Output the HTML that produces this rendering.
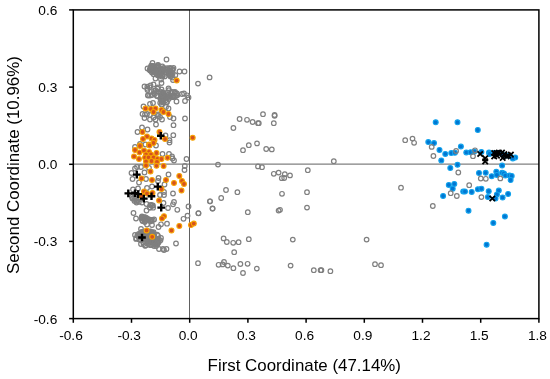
<!DOCTYPE html>
<html><head><meta charset="utf-8"><title>PCoA</title><style>html,body{margin:0;padding:0;background:#fff}body{width:550px;height:379px;overflow:hidden}</style></head><body>
<svg width="550" height="379" viewBox="0 0 550 379" style="display:block">
<rect width="550" height="379" fill="#fff"/>
<g stroke="#606060" stroke-width="1" fill="none"><line x1="73.3" y1="164.1" x2="538.9" y2="164.1"/><line x1="189.5" y1="9.9" x2="189.5" y2="318.6"/></g>
<g fill="#0076d2" stroke="#10a2ec" stroke-width="1.1">
<circle cx="435.7" cy="122.3" r="2.45"/>
<circle cx="457.5" cy="122.3" r="2.45"/>
<circle cx="428.3" cy="142.1" r="2.45"/>
<circle cx="434" cy="143.1" r="2.45"/>
<circle cx="439.5" cy="149.9" r="2.45"/>
<circle cx="445.3" cy="153.9" r="2.45"/>
<circle cx="451.3" cy="153.1" r="2.45"/>
<circle cx="454.9" cy="152.7" r="2.45"/>
<circle cx="460.9" cy="146.6" r="2.45"/>
<circle cx="466.3" cy="152.4" r="2.45"/>
<circle cx="470.6" cy="152.2" r="2.45"/>
<circle cx="441.3" cy="160.4" r="2.45"/>
<circle cx="450.3" cy="168" r="2.45"/>
<circle cx="457.5" cy="164.8" r="2.45"/>
<circle cx="448.8" cy="184.9" r="2.45"/>
<circle cx="454.3" cy="183.9" r="2.45"/>
<circle cx="452.7" cy="188.7" r="2.45"/>
<circle cx="443.1" cy="196" r="2.45"/>
<circle cx="463.2" cy="191.6" r="2.45"/>
<circle cx="471.7" cy="191.9" r="2.45"/>
<circle cx="468.5" cy="210.7" r="2.45"/>
<circle cx="477.8" cy="130" r="2.45"/>
<circle cx="474.3" cy="151.5" r="2.45"/>
<circle cx="481.4" cy="152" r="2.45"/>
<circle cx="489" cy="152.5" r="2.45"/>
<circle cx="489.5" cy="154" r="2.45"/>
<circle cx="494" cy="153" r="2.45"/>
<circle cx="498" cy="153" r="2.45"/>
<circle cx="502" cy="154" r="2.45"/>
<circle cx="506" cy="155.5" r="2.45"/>
<circle cx="510" cy="156" r="2.45"/>
<circle cx="515.2" cy="157.4" r="2.45"/>
<circle cx="512.8" cy="158.4" r="2.45"/>
<circle cx="502.1" cy="165.6" r="2.45"/>
<circle cx="479" cy="173" r="2.45"/>
<circle cx="485.7" cy="172.8" r="2.45"/>
<circle cx="491.7" cy="176.2" r="2.45"/>
<circle cx="496.3" cy="171.8" r="2.45"/>
<circle cx="496.9" cy="174.9" r="2.45"/>
<circle cx="502.1" cy="172.7" r="2.45"/>
<circle cx="504" cy="173.5" r="2.45"/>
<circle cx="505.4" cy="175.6" r="2.45"/>
<circle cx="509.5" cy="175.6" r="2.45"/>
<circle cx="511.7" cy="176" r="2.45"/>
<circle cx="510.6" cy="180" r="2.45"/>
<circle cx="465" cy="191.5" r="2.45"/>
<circle cx="477.9" cy="189.3" r="2.45"/>
<circle cx="481.4" cy="188.7" r="2.45"/>
<circle cx="488.7" cy="191.2" r="2.45"/>
<circle cx="498.8" cy="190.6" r="2.45"/>
<circle cx="496.9" cy="194.4" r="2.45"/>
<circle cx="487.9" cy="197.1" r="2.45"/>
<circle cx="495.5" cy="198.5" r="2.45"/>
<circle cx="502.6" cy="197.5" r="2.45"/>
<circle cx="508.1" cy="194" r="2.45"/>
<circle cx="504.9" cy="216.5" r="2.45"/>
<circle cx="493.3" cy="222.9" r="2.45"/>
<circle cx="486.6" cy="244.7" r="2.45"/>
</g>
<g fill="none" stroke="#7f7f7f" stroke-width="1.2">
<circle cx="157.4" cy="66.5" r="2.3"/>
<circle cx="162.5" cy="69.1" r="2.3"/>
<circle cx="150.9" cy="70.9" r="2.3"/>
<circle cx="150.4" cy="70.0" r="2.3"/>
<circle cx="151.2" cy="65.7" r="2.3"/>
<circle cx="159.8" cy="74.9" r="2.3"/>
<circle cx="152.5" cy="67.4" r="2.3"/>
<circle cx="164.7" cy="76.4" r="2.3"/>
<circle cx="163.5" cy="69.5" r="2.3"/>
<circle cx="170.4" cy="68.2" r="2.3"/>
<circle cx="153.0" cy="66.1" r="2.3"/>
<circle cx="157.0" cy="74.7" r="2.3"/>
<circle cx="153.9" cy="71.8" r="2.3"/>
<circle cx="165.0" cy="69.2" r="2.3"/>
<circle cx="150.9" cy="67.2" r="2.3"/>
<circle cx="166.0" cy="69.9" r="2.3"/>
<circle cx="157.1" cy="71.9" r="2.3"/>
<circle cx="160.5" cy="68.3" r="2.3"/>
<circle cx="168.8" cy="73.3" r="2.3"/>
<circle cx="155.4" cy="71.7" r="2.3"/>
<circle cx="162.3" cy="75.5" r="2.3"/>
<circle cx="167.2" cy="68.2" r="2.3"/>
<circle cx="159.7" cy="74.0" r="2.3"/>
<circle cx="153.2" cy="70.7" r="2.3"/>
<circle cx="168.1" cy="71.7" r="2.3"/>
<circle cx="170.8" cy="68.5" r="2.3"/>
<circle cx="166.4" cy="72.0" r="2.3"/>
<circle cx="163.6" cy="70.3" r="2.3"/>
<circle cx="161.0" cy="72.8" r="2.3"/>
<circle cx="169.5" cy="68.1" r="2.3"/>
<circle cx="158.9" cy="72.9" r="2.3"/>
<circle cx="150.0" cy="70.3" r="2.3"/>
<circle cx="153.6" cy="66.1" r="2.3"/>
<circle cx="152.6" cy="67.7" r="2.3"/>
<circle cx="159.0" cy="75.4" r="2.3"/>
<circle cx="151.5" cy="70.2" r="2.3"/>
<circle cx="162.9" cy="75.6" r="2.3"/>
<circle cx="169.4" cy="75.3" r="2.3"/>
<circle cx="156.3" cy="69.7" r="2.3"/>
<circle cx="158.2" cy="75.6" r="2.3"/>
<circle cx="153.8" cy="67.5" r="2.3"/>
<circle cx="155.2" cy="70.6" r="2.3"/>
<circle cx="163.8" cy="67.9" r="2.3"/>
<circle cx="149.6" cy="69.8" r="2.3"/>
<circle cx="158.5" cy="71.6" r="2.3"/>
<circle cx="172.7" cy="73.2" r="2.3"/>
<circle cx="162.0" cy="72.3" r="2.3"/>
<circle cx="171.4" cy="74.3" r="2.3"/>
<circle cx="170.8" cy="74.5" r="2.3"/>
<circle cx="159.0" cy="69.5" r="2.3"/>
<circle cx="152.0" cy="72.5" r="2.3"/>
<circle cx="154.6" cy="66.6" r="2.3"/>
<circle cx="157.8" cy="65.3" r="2.3"/>
<circle cx="152.0" cy="69.1" r="2.3"/>
<circle cx="155.6" cy="68.9" r="2.3"/>
<circle cx="158.3" cy="66.1" r="2.3"/>
<circle cx="160.8" cy="70.6" r="2.3"/>
<circle cx="151.6" cy="65.9" r="2.3"/>
<circle cx="157.8" cy="67.9" r="2.3"/>
<circle cx="162.3" cy="66.4" r="2.3"/>
<circle cx="162.3" cy="76.7" r="2.3"/>
<circle cx="170.5" cy="73.2" r="2.3"/>
<circle cx="155.8" cy="69.1" r="2.3"/>
<circle cx="153.6" cy="74.2" r="2.3"/>
<circle cx="162.4" cy="74.3" r="2.3"/>
<circle cx="157.5" cy="67.4" r="2.3"/>
<circle cx="170.2" cy="74.6" r="2.3"/>
<circle cx="169.4" cy="73.8" r="2.3"/>
<circle cx="155.0" cy="71.0" r="2.3"/>
<circle cx="158.1" cy="65.0" r="2.3"/>
<circle cx="150.2" cy="68.1" r="2.3"/>
<circle cx="155.8" cy="73.2" r="2.3"/>
<circle cx="172.7" cy="70.1" r="2.3"/>
<circle cx="172.7" cy="69.1" r="2.3"/>
<circle cx="170.5" cy="76.5" r="2.3"/>
<circle cx="172.8" cy="77.5" r="2.3"/>
<circle cx="175.3" cy="75.2" r="2.3"/>
<circle cx="163.2" cy="92.9" r="2.3"/>
<circle cx="162.7" cy="92.7" r="2.3"/>
<circle cx="175.0" cy="96.2" r="2.3"/>
<circle cx="160.6" cy="98.6" r="2.3"/>
<circle cx="173.3" cy="96.2" r="2.3"/>
<circle cx="162.4" cy="100.3" r="2.3"/>
<circle cx="165.3" cy="100.4" r="2.3"/>
<circle cx="177.5" cy="95.1" r="2.3"/>
<circle cx="166.6" cy="102.3" r="2.3"/>
<circle cx="172.8" cy="92.2" r="2.3"/>
<circle cx="161.4" cy="92.0" r="2.3"/>
<circle cx="161.8" cy="100.7" r="2.3"/>
<circle cx="165.7" cy="97.1" r="2.3"/>
<circle cx="174.7" cy="92.7" r="2.3"/>
<circle cx="163.8" cy="93.8" r="2.3"/>
<circle cx="163.6" cy="97.6" r="2.3"/>
<circle cx="163.9" cy="95.4" r="2.3"/>
<circle cx="161.5" cy="101.8" r="2.3"/>
<circle cx="165.7" cy="96.0" r="2.3"/>
<circle cx="167.0" cy="101.9" r="2.3"/>
<circle cx="168.5" cy="96.9" r="2.3"/>
<circle cx="168.9" cy="90.2" r="2.3"/>
<circle cx="167.4" cy="92.4" r="2.3"/>
<circle cx="162.3" cy="96.2" r="2.3"/>
<circle cx="172.8" cy="97.2" r="2.3"/>
<circle cx="165.2" cy="96.7" r="2.3"/>
<circle cx="161.0" cy="97.3" r="2.3"/>
<circle cx="163.7" cy="93.6" r="2.3"/>
<circle cx="173.7" cy="96.6" r="2.3"/>
<circle cx="176.3" cy="95.8" r="2.3"/>
<circle cx="170.6" cy="96.6" r="2.3"/>
<circle cx="168.7" cy="99.0" r="2.3"/>
<circle cx="167.6" cy="96.9" r="2.3"/>
<circle cx="176.9" cy="93.4" r="2.3"/>
<circle cx="175.0" cy="91.8" r="2.3"/>
<circle cx="161.3" cy="95.7" r="2.3"/>
<circle cx="160.4" cy="93.1" r="2.3"/>
<circle cx="160.4" cy="98.7" r="2.3"/>
<circle cx="161.9" cy="99.3" r="2.3"/>
<circle cx="171.5" cy="91.9" r="2.3"/>
<circle cx="163.2" cy="102.4" r="2.3"/>
<circle cx="166.6" cy="96.3" r="2.3"/>
<circle cx="162.1" cy="95.6" r="2.3"/>
<circle cx="168.8" cy="94.4" r="2.3"/>
<circle cx="162.7" cy="94.1" r="2.3"/>
<circle cx="169.5" cy="95.7" r="2.3"/>
<circle cx="170.9" cy="96.7" r="2.3"/>
<circle cx="160.2" cy="102.8" r="2.3"/>
<circle cx="157.0" cy="95.7" r="2.3"/>
<circle cx="147.5" cy="88.7" r="2.3"/>
<circle cx="149.8" cy="87.3" r="2.3"/>
<circle cx="151.9" cy="95.1" r="2.3"/>
<circle cx="157.5" cy="88.6" r="2.3"/>
<circle cx="148.1" cy="95.2" r="2.3"/>
<circle cx="154.0" cy="93.0" r="2.3"/>
<circle cx="147.3" cy="86.6" r="2.3"/>
<circle cx="155.6" cy="90.3" r="2.3"/>
<circle cx="154.9" cy="94.0" r="2.3"/>
<circle cx="150.0" cy="207.5" r="2.3"/>
<circle cx="149.9" cy="207.5" r="2.3"/>
<circle cx="152.4" cy="205.7" r="2.3"/>
<circle cx="153.1" cy="207.7" r="2.3"/>
<circle cx="151.2" cy="205.0" r="2.3"/>
<circle cx="152.9" cy="205.3" r="2.3"/>
<circle cx="150.2" cy="205.1" r="2.3"/>
<circle cx="134.1" cy="197.5" r="2.3"/>
<circle cx="139.9" cy="197.4" r="2.3"/>
<circle cx="136.5" cy="196.7" r="2.3"/>
<circle cx="139.5" cy="199.1" r="2.3"/>
<circle cx="132.5" cy="198.6" r="2.3"/>
<circle cx="140.6" cy="198.3" r="2.3"/>
<circle cx="136.4" cy="200.9" r="2.3"/>
<circle cx="135.1" cy="198.8" r="2.3"/>
<circle cx="138.9" cy="201.9" r="2.3"/>
<circle cx="134.5" cy="200.9" r="2.3"/>
<circle cx="150.7" cy="219.9" r="2.3"/>
<circle cx="146.8" cy="218.2" r="2.3"/>
<circle cx="142.2" cy="217.0" r="2.3"/>
<circle cx="142.4" cy="220.5" r="2.3"/>
<circle cx="144.8" cy="217.1" r="2.3"/>
<circle cx="142.6" cy="221.1" r="2.3"/>
<circle cx="152.8" cy="220.1" r="2.3"/>
<circle cx="145.2" cy="217.6" r="2.3"/>
<circle cx="145.3" cy="218.9" r="2.3"/>
<circle cx="143.5" cy="218.8" r="2.3"/>
<circle cx="144.9" cy="221.8" r="2.3"/>
<circle cx="154.1" cy="219.4" r="2.3"/>
<circle cx="144.7" cy="221.8" r="2.3"/>
<circle cx="145.5" cy="218.3" r="2.3"/>
<circle cx="141.5" cy="218.4" r="2.3"/>
<circle cx="147.7" cy="219.1" r="2.3"/>
<circle cx="144.1" cy="219.1" r="2.3"/>
<circle cx="141.6" cy="217.7" r="2.3"/>
<circle cx="142.7" cy="218.5" r="2.3"/>
<circle cx="142.0" cy="216.3" r="2.3"/>
<circle cx="145.5" cy="217.6" r="2.3"/>
<circle cx="149.1" cy="219.3" r="2.3"/>
<circle cx="151.3" cy="220.0" r="2.3"/>
<circle cx="150.8" cy="221.3" r="2.3"/>
<circle cx="145.5" cy="236.4" r="2.3"/>
<circle cx="153.7" cy="241.1" r="2.3"/>
<circle cx="157.9" cy="240.9" r="2.3"/>
<circle cx="154.0" cy="243.7" r="2.3"/>
<circle cx="139.4" cy="239.4" r="2.3"/>
<circle cx="148.4" cy="244.0" r="2.3"/>
<circle cx="155.7" cy="243.9" r="2.3"/>
<circle cx="150.3" cy="244.9" r="2.3"/>
<circle cx="152.7" cy="241.9" r="2.3"/>
<circle cx="141.6" cy="232.0" r="2.3"/>
<circle cx="139.3" cy="236.9" r="2.3"/>
<circle cx="149.7" cy="240.9" r="2.3"/>
<circle cx="151.3" cy="241.7" r="2.3"/>
<circle cx="148.0" cy="231.5" r="2.3"/>
<circle cx="155.5" cy="242.7" r="2.3"/>
<circle cx="148.3" cy="239.5" r="2.3"/>
<circle cx="152.2" cy="232.5" r="2.3"/>
<circle cx="154.1" cy="235.3" r="2.3"/>
<circle cx="137.8" cy="235.5" r="2.3"/>
<circle cx="153.9" cy="234.6" r="2.3"/>
<circle cx="154.1" cy="246.1" r="2.3"/>
<circle cx="148.1" cy="237.2" r="2.3"/>
<circle cx="147.7" cy="241.8" r="2.3"/>
<circle cx="154.8" cy="240.8" r="2.3"/>
<circle cx="151.7" cy="232.7" r="2.3"/>
<circle cx="139.6" cy="235.3" r="2.3"/>
<circle cx="154.2" cy="236.1" r="2.3"/>
<circle cx="149.9" cy="231.7" r="2.3"/>
<circle cx="137.5" cy="235.5" r="2.3"/>
<circle cx="152.5" cy="241.9" r="2.3"/>
<circle cx="152.6" cy="235.9" r="2.3"/>
<circle cx="148.7" cy="238.5" r="2.3"/>
<circle cx="147.4" cy="233.3" r="2.3"/>
<circle cx="136.4" cy="238.4" r="2.3"/>
<circle cx="156.1" cy="246.0" r="2.3"/>
<circle cx="147.0" cy="235.5" r="2.3"/>
<circle cx="141.2" cy="240.2" r="2.3"/>
<circle cx="139.5" cy="239.4" r="2.3"/>
<circle cx="156.1" cy="239.1" r="2.3"/>
<circle cx="157.7" cy="242.1" r="2.3"/>
<circle cx="147.9" cy="231.9" r="2.3"/>
<circle cx="136.1" cy="238.9" r="2.3"/>
<circle cx="147.0" cy="236.0" r="2.3"/>
<circle cx="139.4" cy="236.7" r="2.3"/>
<circle cx="143.7" cy="244.1" r="2.3"/>
<circle cx="158.7" cy="242.2" r="2.3"/>
<circle cx="158.1" cy="235.8" r="2.3"/>
<circle cx="145.1" cy="237.4" r="2.3"/>
<circle cx="160.5" cy="240.3" r="2.3"/>
<circle cx="144.8" cy="237.9" r="2.3"/>
<circle cx="142.7" cy="232.2" r="2.3"/>
<circle cx="142.1" cy="235.5" r="2.3"/>
<circle cx="148.5" cy="234.3" r="2.3"/>
<circle cx="145.1" cy="245.8" r="2.3"/>
<circle cx="157.7" cy="243.7" r="2.3"/>
<circle cx="151.5" cy="245.2" r="2.3"/>
<circle cx="159.0" cy="239.7" r="2.3"/>
<circle cx="153.6" cy="232.2" r="2.3"/>
<circle cx="153.9" cy="238.3" r="2.3"/>
<circle cx="154.4" cy="241.2" r="2.3"/>
<circle cx="143.0" cy="232.2" r="2.3"/>
<circle cx="147.6" cy="236.7" r="2.3"/>
<circle cx="143.3" cy="242.6" r="2.3"/>
<circle cx="152.1" cy="236.0" r="2.3"/>
<circle cx="149.7" cy="237.4" r="2.3"/>
<circle cx="140.1" cy="233.9" r="2.3"/>
<circle cx="148.2" cy="234.8" r="2.3"/>
<circle cx="147.0" cy="233.6" r="2.3"/>
<circle cx="140.7" cy="232.9" r="2.3"/>
<circle cx="144.4" cy="232.9" r="2.3"/>
<circle cx="141.9" cy="235.4" r="2.3"/>
<circle cx="150.0" cy="244.8" r="2.3"/>
<circle cx="154.4" cy="237.7" r="2.3"/>
<circle cx="146.1" cy="239.4" r="2.3"/>
<circle cx="145.2" cy="236.6" r="2.3"/>
<circle cx="137.5" cy="235.7" r="2.3"/>
<circle cx="148.3" cy="240.9" r="2.3"/>
<circle cx="157.1" cy="234.7" r="2.3"/>
<circle cx="142.6" cy="235.2" r="2.3"/>
<circle cx="145.8" cy="238.2" r="2.3"/>
<circle cx="157.9" cy="238.6" r="2.3"/>
<circle cx="150.4" cy="231.5" r="2.3"/>
<circle cx="145.6" cy="245.4" r="2.3"/>
<circle cx="156.2" cy="244.3" r="2.3"/>
<circle cx="138.7" cy="233.8" r="2.3"/>
<circle cx="166.5" cy="59.5" r="2.3"/>
<circle cx="147.5" cy="68.5" r="2.3"/>
<circle cx="152.5" cy="63" r="2.3"/>
<circle cx="179.5" cy="71.5" r="2.3"/>
<circle cx="184.5" cy="71.5" r="2.3"/>
<circle cx="155.5" cy="78.5" r="2.3"/>
<circle cx="173.5" cy="68" r="2.3"/>
<circle cx="173" cy="80" r="2.3"/>
<circle cx="161.5" cy="83" r="2.3"/>
<circle cx="161" cy="79.5" r="2.3"/>
<circle cx="144.5" cy="86.5" r="2.3"/>
<circle cx="150.5" cy="85.5" r="2.3"/>
<circle cx="168.5" cy="88.5" r="2.3"/>
<circle cx="153.5" cy="84.5" r="2.3"/>
<circle cx="147.5" cy="90" r="2.3"/>
<circle cx="148" cy="95.5" r="2.3"/>
<circle cx="150" cy="95.5" r="2.3"/>
<circle cx="158" cy="87.5" r="2.3"/>
<circle cx="161.5" cy="89.5" r="2.3"/>
<circle cx="182" cy="94" r="2.3"/>
<circle cx="184" cy="93.5" r="2.3"/>
<circle cx="187" cy="95.3" r="2.3"/>
<circle cx="188.5" cy="97.5" r="2.3"/>
<circle cx="185" cy="101" r="2.3"/>
<circle cx="176.5" cy="101.5" r="2.3"/>
<circle cx="154" cy="91" r="2.3"/>
<circle cx="157" cy="96" r="2.3"/>
<circle cx="150" cy="104" r="2.3"/>
<circle cx="153" cy="103" r="2.3"/>
<circle cx="161.5" cy="104.5" r="2.3"/>
<circle cx="143.5" cy="106.5" r="2.3"/>
<circle cx="168.5" cy="108.5" r="2.3"/>
<circle cx="166" cy="107" r="2.3"/>
<circle cx="142.5" cy="114" r="2.3"/>
<circle cx="145" cy="114.5" r="2.3"/>
<circle cx="150" cy="115" r="2.3"/>
<circle cx="158" cy="114.5" r="2.3"/>
<circle cx="185" cy="118.5" r="2.3"/>
<circle cx="173.5" cy="118.5" r="2.3"/>
<circle cx="144.5" cy="118" r="2.3"/>
<circle cx="150" cy="119.5" r="2.3"/>
<circle cx="155.5" cy="119.5" r="2.3"/>
<circle cx="162" cy="119.5" r="2.3"/>
<circle cx="156" cy="124.5" r="2.3"/>
<circle cx="173.5" cy="125.2" r="2.3"/>
<circle cx="170" cy="117" r="2.3"/>
<circle cx="147" cy="114" r="2.3"/>
<circle cx="153.5" cy="117.5" r="2.3"/>
<circle cx="158" cy="116" r="2.3"/>
<circle cx="160" cy="117" r="2.3"/>
<circle cx="142" cy="127.5" r="2.3"/>
<circle cx="147.5" cy="129.5" r="2.3"/>
<circle cx="137.5" cy="132" r="2.3"/>
<circle cx="173.3" cy="135.2" r="2.3"/>
<circle cx="165.5" cy="135.5" r="2.3"/>
<circle cx="169.5" cy="140.2" r="2.3"/>
<circle cx="169.5" cy="142.5" r="2.3"/>
<circle cx="140" cy="144" r="2.3"/>
<circle cx="145.5" cy="144.5" r="2.3"/>
<circle cx="156" cy="145.5" r="2.3"/>
<circle cx="135" cy="147" r="2.3"/>
<circle cx="162.5" cy="154" r="2.3"/>
<circle cx="169" cy="154" r="2.3"/>
<circle cx="172" cy="156.5" r="2.3"/>
<circle cx="174" cy="160.5" r="2.3"/>
<circle cx="172.5" cy="158.5" r="2.3"/>
<circle cx="137" cy="167" r="2.3"/>
<circle cx="141" cy="167" r="2.3"/>
<circle cx="135" cy="168.5" r="2.3"/>
<circle cx="131.5" cy="173" r="2.3"/>
<circle cx="144.5" cy="172.5" r="2.3"/>
<circle cx="149" cy="168" r="2.3"/>
<circle cx="168.5" cy="174.5" r="2.3"/>
<circle cx="186.5" cy="159" r="2.3"/>
<circle cx="184.8" cy="166" r="2.3"/>
<circle cx="184.5" cy="170" r="2.3"/>
<circle cx="164.5" cy="184.5" r="2.3"/>
<circle cx="132.5" cy="179" r="2.3"/>
<circle cx="139" cy="182.5" r="2.3"/>
<circle cx="146" cy="179" r="2.3"/>
<circle cx="158.5" cy="178" r="2.3"/>
<circle cx="158" cy="181" r="2.3"/>
<circle cx="133" cy="189.5" r="2.3"/>
<circle cx="138" cy="188.5" r="2.3"/>
<circle cx="147" cy="188" r="2.3"/>
<circle cx="152" cy="186.5" r="2.3"/>
<circle cx="164" cy="192" r="2.3"/>
<circle cx="160" cy="195" r="2.3"/>
<circle cx="173" cy="193.5" r="2.3"/>
<circle cx="132" cy="197" r="2.3"/>
<circle cx="137" cy="200" r="2.3"/>
<circle cx="174" cy="202" r="2.3"/>
<circle cx="136.5" cy="202.5" r="2.3"/>
<circle cx="142" cy="202.5" r="2.3"/>
<circle cx="146.5" cy="204" r="2.3"/>
<circle cx="135" cy="199" r="2.3"/>
<circle cx="146.5" cy="210.5" r="2.3"/>
<circle cx="168" cy="208" r="2.3"/>
<circle cx="173" cy="204.3" r="2.3"/>
<circle cx="133.5" cy="213" r="2.3"/>
<circle cx="136" cy="218.5" r="2.3"/>
<circle cx="147" cy="224.5" r="2.3"/>
<circle cx="152" cy="225" r="2.3"/>
<circle cx="158.5" cy="227" r="2.3"/>
<circle cx="161" cy="224.3" r="2.3"/>
<circle cx="167" cy="223.7" r="2.3"/>
<circle cx="141" cy="229" r="2.3"/>
<circle cx="164" cy="195" r="2.3"/>
<circle cx="135" cy="235" r="2.3"/>
<circle cx="141" cy="244" r="2.3"/>
<circle cx="159" cy="249" r="2.3"/>
<circle cx="164" cy="250" r="2.3"/>
<circle cx="166.5" cy="249" r="2.3"/>
<circle cx="176" cy="243.5" r="2.3"/>
<circle cx="161" cy="238" r="2.3"/>
<circle cx="177.3" cy="209.8" r="2.3"/>
<circle cx="188.5" cy="206.5" r="2.3"/>
<circle cx="187.5" cy="215.7" r="2.3"/>
<circle cx="183.5" cy="218.8" r="2.3"/>
<circle cx="198.5" cy="213.3" r="2.3"/>
<circle cx="210" cy="201.3" r="2.3"/>
<circle cx="212.5" cy="208.5" r="2.3"/>
<circle cx="163.5" cy="203" r="2.3"/>
<circle cx="163" cy="249" r="2.3"/>
<circle cx="198" cy="83.6" r="2.3"/>
<circle cx="209.6" cy="77.4" r="2.3"/>
<circle cx="233.4" cy="128" r="2.3"/>
<circle cx="239.6" cy="119" r="2.3"/>
<circle cx="247" cy="119.8" r="2.3"/>
<circle cx="252.6" cy="122" r="2.3"/>
<circle cx="258" cy="123.2" r="2.3"/>
<circle cx="258.8" cy="123.2" r="2.3"/>
<circle cx="263" cy="114.2" r="2.3"/>
<circle cx="274.6" cy="115.0" r="2.3"/>
<circle cx="274.6" cy="115.8" r="2.3"/>
<circle cx="273.8" cy="123.2" r="2.3"/>
<circle cx="243" cy="150.2" r="2.3"/>
<circle cx="248.8" cy="145.2" r="2.3"/>
<circle cx="257" cy="143.4" r="2.3"/>
<circle cx="266.2" cy="149" r="2.3"/>
<circle cx="271.8" cy="149.4" r="2.3"/>
<circle cx="218" cy="164.6" r="2.3"/>
<circle cx="258" cy="166.4" r="2.3"/>
<circle cx="262" cy="167.2" r="2.3"/>
<circle cx="273.8" cy="173.8" r="2.3"/>
<circle cx="278.6" cy="172.6" r="2.3"/>
<circle cx="284.8" cy="174.2" r="2.3"/>
<circle cx="290" cy="175.4" r="2.3"/>
<circle cx="281.8" cy="178.2" r="2.3"/>
<circle cx="284.2" cy="178" r="2.3"/>
<circle cx="226" cy="190" r="2.3"/>
<circle cx="237.4" cy="192.2" r="2.3"/>
<circle cx="221.2" cy="198" r="2.3"/>
<circle cx="210" cy="201.3" r="2.3"/>
<circle cx="282" cy="193.8" r="2.3"/>
<circle cx="212.6" cy="208.6" r="2.3"/>
<circle cx="198.4" cy="213.2" r="2.3"/>
<circle cx="247.8" cy="212.2" r="2.3"/>
<circle cx="278.6" cy="210.6" r="2.3"/>
<circle cx="280" cy="209.8" r="2.3"/>
<circle cx="223.6" cy="238.4" r="2.3"/>
<circle cx="226.8" cy="242" r="2.3"/>
<circle cx="233.2" cy="242.8" r="2.3"/>
<circle cx="238.6" cy="242.2" r="2.3"/>
<circle cx="248.8" cy="239.2" r="2.3"/>
<circle cx="292.8" cy="239.6" r="2.3"/>
<circle cx="234.2" cy="252.2" r="2.3"/>
<circle cx="198" cy="263.2" r="2.3"/>
<circle cx="218.6" cy="264.8" r="2.3"/>
<circle cx="222.6" cy="264.4" r="2.3"/>
<circle cx="224" cy="262" r="2.3"/>
<circle cx="227.8" cy="265.6" r="2.3"/>
<circle cx="233.4" cy="268.2" r="2.3"/>
<circle cx="240.4" cy="264" r="2.3"/>
<circle cx="247.6" cy="263.8" r="2.3"/>
<circle cx="256.8" cy="268.6" r="2.3"/>
<circle cx="243" cy="273" r="2.3"/>
<circle cx="290.6" cy="265.6" r="2.3"/>
<circle cx="307.8" cy="170.2" r="2.3"/>
<circle cx="333.8" cy="161.2" r="2.3"/>
<circle cx="307" cy="192.2" r="2.3"/>
<circle cx="307" cy="207.6" r="2.3"/>
<circle cx="366.6" cy="239.6" r="2.3"/>
<circle cx="375" cy="264.2" r="2.3"/>
<circle cx="381" cy="265.2" r="2.3"/>
<circle cx="313.8" cy="270.2" r="2.3"/>
<circle cx="320.6" cy="270.2" r="2.3"/>
<circle cx="321.4" cy="270.2" r="2.3"/>
<circle cx="330.4" cy="271.2" r="2.3"/>
<circle cx="405.2" cy="140.2" r="2.3"/>
<circle cx="412.5" cy="138.6" r="2.3"/>
<circle cx="414.1" cy="142.8" r="2.3"/>
<circle cx="431.7" cy="146.9" r="2.3"/>
<circle cx="433.4" cy="156" r="2.3"/>
<circle cx="456.1" cy="151" r="2.3"/>
<circle cx="475" cy="150.3" r="2.3"/>
<circle cx="473" cy="156.2" r="2.3"/>
<circle cx="458.3" cy="172.5" r="2.3"/>
<circle cx="401" cy="187.7" r="2.3"/>
<circle cx="469.2" cy="185.2" r="2.3"/>
<circle cx="450.7" cy="193.2" r="2.3"/>
<circle cx="456.8" cy="196" r="2.3"/>
<circle cx="432.8" cy="206" r="2.3"/>
<circle cx="480.8" cy="178.5" r="2.3"/>
<circle cx="485.8" cy="178.8" r="2.3"/>
<circle cx="500.3" cy="178.4" r="2.3"/>
<circle cx="481.4" cy="197.1" r="2.3"/>
</g>
<g fill="#d6521c" stroke="#f7a400" stroke-width="1.1">
<circle cx="176.7" cy="80.6" r="2.45"/>
<circle cx="192.7" cy="137.7" r="2.45"/>
<circle cx="191" cy="225" r="2.45"/>
<circle cx="193.8" cy="223.6" r="2.45"/>
<circle cx="145.5" cy="108.5" r="2.45"/>
<circle cx="151" cy="109" r="2.45"/>
<circle cx="155.5" cy="108.5" r="2.45"/>
<circle cx="153.5" cy="112" r="2.45"/>
<circle cx="161.5" cy="110" r="2.45"/>
<circle cx="163.5" cy="112" r="2.45"/>
<circle cx="168.5" cy="114" r="2.45"/>
<circle cx="142.5" cy="132" r="2.45"/>
<circle cx="159.5" cy="132" r="2.45"/>
<circle cx="147" cy="136.5" r="2.45"/>
<circle cx="143" cy="139" r="2.45"/>
<circle cx="151.5" cy="138.5" r="2.45"/>
<circle cx="154.5" cy="140" r="2.45"/>
<circle cx="165" cy="139" r="2.45"/>
<circle cx="153.5" cy="143" r="2.45"/>
<circle cx="149" cy="144.5" r="2.45"/>
<circle cx="140" cy="145.5" r="2.45"/>
<circle cx="149.5" cy="145.5" r="2.45"/>
<circle cx="140" cy="146" r="2.45"/>
<circle cx="135" cy="150" r="2.45"/>
<circle cx="139.5" cy="152.5" r="2.45"/>
<circle cx="144" cy="150.5" r="2.45"/>
<circle cx="149" cy="152" r="2.45"/>
<circle cx="146" cy="154.5" r="2.45"/>
<circle cx="151" cy="154.5" r="2.45"/>
<circle cx="156.5" cy="153" r="2.45"/>
<circle cx="134" cy="156.5" r="2.45"/>
<circle cx="139" cy="159" r="2.45"/>
<circle cx="145" cy="157.5" r="2.45"/>
<circle cx="148.5" cy="157.5" r="2.45"/>
<circle cx="153.5" cy="157.5" r="2.45"/>
<circle cx="157.5" cy="159" r="2.45"/>
<circle cx="161.5" cy="159" r="2.45"/>
<circle cx="167.5" cy="157.8" r="2.45"/>
<circle cx="146" cy="161.5" r="2.45"/>
<circle cx="151.5" cy="161" r="2.45"/>
<circle cx="157" cy="162" r="2.45"/>
<circle cx="146" cy="165.5" r="2.45"/>
<circle cx="156.5" cy="165.8" r="2.45"/>
<circle cx="163.6" cy="166" r="2.45"/>
<circle cx="150.5" cy="171.5" r="2.45"/>
<circle cx="179.3" cy="176" r="2.45"/>
<circle cx="141.5" cy="178.5" r="2.45"/>
<circle cx="152" cy="180" r="2.45"/>
<circle cx="166" cy="180" r="2.45"/>
<circle cx="174" cy="183" r="2.45"/>
<circle cx="161.5" cy="189" r="2.45"/>
<circle cx="144" cy="191.5" r="2.45"/>
<circle cx="147" cy="193.5" r="2.45"/>
<circle cx="152.5" cy="193" r="2.45"/>
<circle cx="159.1" cy="200.4" r="2.45"/>
<circle cx="141.5" cy="196" r="2.45"/>
<circle cx="164" cy="216.2" r="2.45"/>
<circle cx="162" cy="218.5" r="2.45"/>
<circle cx="146.6" cy="230.4" r="2.45"/>
<circle cx="171.5" cy="230.5" r="2.45"/>
<circle cx="152.2" cy="236.8" r="2.45"/>
<circle cx="179.3" cy="226" r="2.45"/>
<circle cx="182" cy="181" r="2.45"/>
<circle cx="184" cy="184" r="2.45"/>
<circle cx="181.5" cy="190.5" r="2.45"/>
</g>
<g stroke="#000" stroke-width="2.4" fill="none">
<path d="M157.0 135.8H164.60000000000002M160.8 132.0V139.60000000000002"/>
<path d="M133.0 174.6H140.60000000000002M136.8 170.79999999999998V178.4"/>
<path d="M154.0 186.6H161.60000000000002M157.8 182.79999999999998V190.4"/>
<path d="M124.50000000000001 193.4H132.10000000000002M128.3 189.6V197.20000000000002"/>
<path d="M131.2 193.2H138.8M135 189.39999999999998V197.0"/>
<path d="M134.39999999999998 194.1H142.0M138.2 190.29999999999998V197.9"/>
<path d="M140.0 198.6H147.60000000000002M143.8 194.79999999999998V202.4"/>
<path d="M147.7 196.3H155.3M151.5 192.5V200.10000000000002"/>
<path d="M157.39999999999998 207.6H165.0M161.2 203.79999999999998V211.4"/>
<path d="M138.2 237.5H145.8M142 233.7V241.3"/>
</g>
<g stroke="#000" stroke-width="1.8" fill="none">
<path d="M477.5 151.3L482.9 156.7M477.5 156.7L482.9 151.3"/>
<path d="M482.5 155.60000000000002L487.9 161.0M482.5 161.0L487.9 155.60000000000002"/>
<path d="M482.5 158.70000000000002L487.9 164.1M482.5 164.1L487.9 158.70000000000002"/>
<path d="M491.5 150.3L496.9 155.7M491.5 155.7L496.9 150.3"/>
<path d="M493.90000000000003 150.3L499.3 155.7M493.90000000000003 155.7L499.3 150.3"/>
<path d="M491.5 153.8L496.9 159.2M491.5 159.2L496.9 153.8"/>
<path d="M494.3 153.0L499.7 158.39999999999998M494.3 158.39999999999998L499.7 153.0"/>
<path d="M496.2 149.9L501.59999999999997 155.29999999999998M496.2 155.29999999999998L501.59999999999997 149.9"/>
<path d="M499.3 149.9L504.7 155.29999999999998M499.3 155.29999999999998L504.7 149.9"/>
<path d="M501.6 151.5L507.0 156.89999999999998M501.6 156.89999999999998L507.0 151.5"/>
<path d="M500.0 155.3L505.4 160.7M500.0 160.7L505.4 155.3"/>
<path d="M503.90000000000003 153.8L509.3 159.2M503.90000000000003 159.2L509.3 153.8"/>
<path d="M505.5 152.9L510.9 158.29999999999998M505.5 158.29999999999998L510.9 152.9"/>
<path d="M508.2 151.9L513.6 157.29999999999998M508.2 157.29999999999998L513.6 151.9"/>
<path d="M489.6 195.8L495.0 201.2M489.6 201.2L495.0 195.8"/>
</g>
<g stroke="#000" stroke-width="1.5" fill="none"><rect x="73.3" y="9.9" width="465.59999999999997" height="308.70000000000005"/>
<line x1="73.3" y1="318.6" x2="73.3" y2="322.8"/>
<line x1="131.5" y1="318.6" x2="131.5" y2="322.8"/>
<line x1="189.7" y1="318.6" x2="189.7" y2="322.8"/>
<line x1="247.9" y1="318.6" x2="247.9" y2="322.8"/>
<line x1="306.1" y1="318.6" x2="306.1" y2="322.8"/>
<line x1="364.3" y1="318.6" x2="364.3" y2="322.8"/>
<line x1="422.5" y1="318.6" x2="422.5" y2="322.8"/>
<line x1="480.7" y1="318.6" x2="480.7" y2="322.8"/>
<line x1="538.9" y1="318.6" x2="538.9" y2="322.8"/>
<line x1="69.1" y1="9.9" x2="73.3" y2="9.9"/>
<line x1="69.1" y1="87.1" x2="73.3" y2="87.1"/>
<line x1="69.1" y1="164.3" x2="73.3" y2="164.3"/>
<line x1="69.1" y1="241.4" x2="73.3" y2="241.4"/>
<line x1="69.1" y1="318.6" x2="73.3" y2="318.6"/>
</g>
<g font-family="'Liberation Sans', Arial, sans-serif" fill="#000">
<g font-size="13.7" text-anchor="middle">
<text x="71.0" y="339.8">-0.6</text>
<text x="129.2" y="339.8">-0.3</text>
<text x="188.2" y="339.8">0.0</text>
<text x="246.4" y="339.8">0.3</text>
<text x="304.6" y="339.8">0.6</text>
<text x="362.8" y="339.8">0.9</text>
<text x="421.0" y="339.8">1.2</text>
<text x="479.2" y="339.8">1.5</text>
<text x="537.4" y="339.8">1.8</text>
</g><g font-size="13.7" text-anchor="end">
<text x="57.3" y="14.8">0.6</text>
<text x="57.3" y="92.0">0.3</text>
<text x="57.3" y="169.2">0.0</text>
<text x="57.3" y="246.3">-0.3</text>
<text x="57.3" y="323.5">-0.6</text>
</g>
<text x="304.3" y="370.7" font-size="16.6" text-anchor="middle" textLength="193.4" lengthAdjust="spacingAndGlyphs">First Coordinate (47.14%)</text>
<text transform="translate(18.7,165.1) rotate(-90)" font-size="16.6" text-anchor="middle" textLength="217.8" lengthAdjust="spacingAndGlyphs">Second Coordinate (10.96%)</text>
</g>
</svg>
</body></html>
